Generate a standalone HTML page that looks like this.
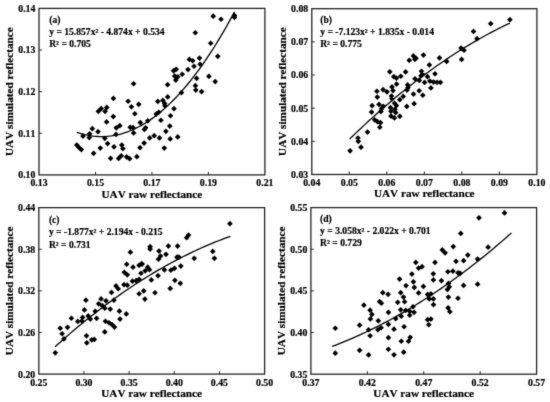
<!DOCTYPE html><html><head><meta charset="utf-8"><style>html,body{margin:0;padding:0;background:#fff;}svg{display:block;}</style></head><body>
<svg width="550" height="402" viewBox="0 0 550 402">
<rect width="550" height="402" fill="#fff"/>
<defs><filter id="bl" x="0" y="0" width="550" height="402" filterUnits="userSpaceOnUse" color-interpolation-filters="sRGB"><feConvolveMatrix order="3" kernelMatrix="0.0225 0.15 0.0225 0.15 1 0.15 0.0225 0.15 0.0225" edgeMode="duplicate"/></filter></defs><g filter="url(#bl)">
<g><path d="M76.80,132.30 L79.47,133.18 L82.15,133.96 L84.82,134.64 L87.49,135.21 L90.16,135.69 L92.84,136.07 L95.51,136.34 L98.18,136.51 L100.86,136.59 L103.53,136.56 L106.20,136.43 L108.87,136.20 L111.55,135.88 L114.22,135.45 L116.89,134.91 L119.57,134.28 L122.24,133.55 L124.91,132.72 L127.58,131.78 L130.26,130.75 L132.93,129.62 L135.60,128.38 L138.28,127.04 L140.95,125.61 L143.62,124.07 L146.29,122.43 L148.97,120.69 L151.64,118.85 L154.31,116.91 L156.99,114.87 L159.66,112.73 L162.33,110.48 L165.01,108.14 L167.68,105.70 L170.35,103.15 L173.02,100.51 L175.70,97.76 L178.37,94.91 L181.04,91.97 L183.72,88.92 L186.39,85.77 L189.06,82.52 L191.73,79.17 L194.41,75.72 L197.08,72.17 L199.75,68.51 L202.43,64.76 L205.10,60.91 L207.77,56.95 L210.44,52.90 L213.12,48.74 L215.79,44.49 L218.46,40.13 L221.14,35.67 L223.81,31.11 L226.48,26.45 L229.15,21.69 L231.83,16.83 L234.50,11.87" fill="none" stroke="#000" stroke-width="1.3"/><path d="M213.2,13.3l2.85,2.85l-2.85,2.85l-2.85,-2.85zM221.0,16.4l2.85,2.85l-2.85,2.85l-2.85,-2.85zM234.5,12.7l2.85,2.85l-2.85,2.85l-2.85,-2.85zM234.5,14.5l2.85,2.85l-2.85,2.85l-2.85,-2.85zM195.3,29.9l2.85,2.85l-2.85,2.85l-2.85,-2.85zM210.7,40.4l2.85,2.85l-2.85,2.85l-2.85,-2.85zM217.8,53.5l2.85,2.85l-2.85,2.85l-2.85,-2.85zM199.5,55.2l2.85,2.85l-2.85,2.85l-2.85,-2.85zM192.7,57.9l2.85,2.85l-2.85,2.85l-2.85,-2.85zM189.4,56.6l2.85,2.85l-2.85,2.85l-2.85,-2.85zM194.0,63.4l2.85,2.85l-2.85,2.85l-2.85,-2.85zM200.1,61.4l2.85,2.85l-2.85,2.85l-2.85,-2.85zM188.0,66.7l2.85,2.85l-2.85,2.85l-2.85,-2.85zM208.9,73.5l2.85,2.85l-2.85,2.85l-2.85,-2.85zM215.2,78.7l2.85,2.85l-2.85,2.85l-2.85,-2.85zM196.6,75.5l2.85,2.85l-2.85,2.85l-2.85,-2.85zM195.4,82.8l2.85,2.85l-2.85,2.85l-2.85,-2.85zM195.8,87.2l2.85,2.85l-2.85,2.85l-2.85,-2.85zM201.6,88.8l2.85,2.85l-2.85,2.85l-2.85,-2.85zM181.4,89.8l2.85,2.85l-2.85,2.85l-2.85,-2.85zM133.6,80.9l2.85,2.85l-2.85,2.85l-2.85,-2.85zM176.2,66.5l2.85,2.85l-2.85,2.85l-2.85,-2.85zM173.6,68.0l2.85,2.85l-2.85,2.85l-2.85,-2.85zM182.2,71.4l2.85,2.85l-2.85,2.85l-2.85,-2.85zM174.7,73.2l2.85,2.85l-2.85,2.85l-2.85,-2.85zM177.7,74.0l2.85,2.85l-2.85,2.85l-2.85,-2.85zM175.8,77.2l2.85,2.85l-2.85,2.85l-2.85,-2.85zM167.6,81.8l2.85,2.85l-2.85,2.85l-2.85,-2.85zM167.7,94.1l2.85,2.85l-2.85,2.85l-2.85,-2.85zM157.8,98.6l2.85,2.85l-2.85,2.85l-2.85,-2.85zM162.9,97.6l2.85,2.85l-2.85,2.85l-2.85,-2.85zM164.6,100.6l2.85,2.85l-2.85,2.85l-2.85,-2.85zM164.9,102.9l2.85,2.85l-2.85,2.85l-2.85,-2.85zM174.0,105.8l2.85,2.85l-2.85,2.85l-2.85,-2.85zM158.8,109.4l2.85,2.85l-2.85,2.85l-2.85,-2.85zM156.2,111.2l2.85,2.85l-2.85,2.85l-2.85,-2.85zM170.5,112.9l2.85,2.85l-2.85,2.85l-2.85,-2.85zM160.9,117.4l2.85,2.85l-2.85,2.85l-2.85,-2.85zM147.8,118.0l2.85,2.85l-2.85,2.85l-2.85,-2.85zM140.3,119.7l2.85,2.85l-2.85,2.85l-2.85,-2.85zM145.6,124.9l2.85,2.85l-2.85,2.85l-2.85,-2.85zM144.4,126.6l2.85,2.85l-2.85,2.85l-2.85,-2.85zM169.8,123.2l2.85,2.85l-2.85,2.85l-2.85,-2.85zM165.9,128.5l2.85,2.85l-2.85,2.85l-2.85,-2.85zM113.4,95.6l2.85,2.85l-2.85,2.85l-2.85,-2.85zM128.1,98.4l2.85,2.85l-2.85,2.85l-2.85,-2.85zM138.7,101.5l2.85,2.85l-2.85,2.85l-2.85,-2.85zM131.4,104.0l2.85,2.85l-2.85,2.85l-2.85,-2.85zM134.8,110.9l2.85,2.85l-2.85,2.85l-2.85,-2.85zM101.2,105.7l2.85,2.85l-2.85,2.85l-2.85,-2.85zM98.4,108.5l2.85,2.85l-2.85,2.85l-2.85,-2.85zM106.8,104.6l2.85,2.85l-2.85,2.85l-2.85,-2.85zM105.1,108.5l2.85,2.85l-2.85,2.85l-2.85,-2.85zM113.3,113.7l2.85,2.85l-2.85,2.85l-2.85,-2.85zM106.6,119.1l2.85,2.85l-2.85,2.85l-2.85,-2.85zM119.8,122.8l2.85,2.85l-2.85,2.85l-2.85,-2.85zM116.3,125.0l2.85,2.85l-2.85,2.85l-2.85,-2.85zM92.3,125.8l2.85,2.85l-2.85,2.85l-2.85,-2.85zM98.0,128.8l2.85,2.85l-2.85,2.85l-2.85,-2.85zM130.2,124.5l2.85,2.85l-2.85,2.85l-2.85,-2.85zM133.1,124.8l2.85,2.85l-2.85,2.85l-2.85,-2.85zM133.6,130.1l2.85,2.85l-2.85,2.85l-2.85,-2.85zM116.0,131.6l2.85,2.85l-2.85,2.85l-2.85,-2.85zM83.0,133.2l2.85,2.85l-2.85,2.85l-2.85,-2.85zM89.6,131.0l2.85,2.85l-2.85,2.85l-2.85,-2.85zM89.3,134.7l2.85,2.85l-2.85,2.85l-2.85,-2.85zM104.8,135.5l2.85,2.85l-2.85,2.85l-2.85,-2.85zM107.6,140.7l2.85,2.85l-2.85,2.85l-2.85,-2.85zM114.0,144.0l2.85,2.85l-2.85,2.85l-2.85,-2.85zM100.3,145.2l2.85,2.85l-2.85,2.85l-2.85,-2.85zM93.6,150.5l2.85,2.85l-2.85,2.85l-2.85,-2.85zM76.8,142.2l2.85,2.85l-2.85,2.85l-2.85,-2.85zM79.0,144.7l2.85,2.85l-2.85,2.85l-2.85,-2.85zM81.3,146.7l2.85,2.85l-2.85,2.85l-2.85,-2.85zM110.6,155.5l2.85,2.85l-2.85,2.85l-2.85,-2.85zM118.6,155.6l2.85,2.85l-2.85,2.85l-2.85,-2.85zM121.2,153.0l2.85,2.85l-2.85,2.85l-2.85,-2.85zM126.6,154.1l2.85,2.85l-2.85,2.85l-2.85,-2.85zM129.6,155.8l2.85,2.85l-2.85,2.85l-2.85,-2.85zM136.9,153.8l2.85,2.85l-2.85,2.85l-2.85,-2.85zM149.7,135.1l2.85,2.85l-2.85,2.85l-2.85,-2.85zM154.2,132.8l2.85,2.85l-2.85,2.85l-2.85,-2.85zM159.5,135.1l2.85,2.85l-2.85,2.85l-2.85,-2.85zM144.1,140.2l2.85,2.85l-2.85,2.85l-2.85,-2.85zM140.0,144.8l2.85,2.85l-2.85,2.85l-2.85,-2.85zM164.3,145.2l2.85,2.85l-2.85,2.85l-2.85,-2.85zM177.7,134.1l2.85,2.85l-2.85,2.85l-2.85,-2.85zM121.8,142.2l2.85,2.85l-2.85,2.85l-2.85,-2.85zM122.9,145.7l2.85,2.85l-2.85,2.85l-2.85,-2.85zM170.2,136.1l2.85,2.85l-2.85,2.85l-2.85,-2.85z" fill="#000"/><rect x="39.0" y="8.4" width="225.90" height="166.50" fill="none" stroke="#262626" stroke-width="1.3"/><text x="39.00" y="186.40" text-anchor="middle" class="tk">0.13</text><text x="95.47" y="186.40" text-anchor="middle" class="tk">0.15</text><text x="151.95" y="186.40" text-anchor="middle" class="tk">0.17</text><text x="208.42" y="186.40" text-anchor="middle" class="tk">0.19</text><text x="264.90" y="186.40" text-anchor="middle" class="tk">0.21</text><text x="35.40" y="178.30" text-anchor="end" class="tk">0.10</text><text x="35.40" y="136.68" text-anchor="end" class="tk">0.11</text><text x="35.40" y="95.05" text-anchor="end" class="tk">0.12</text><text x="35.40" y="53.43" text-anchor="end" class="tk">0.13</text><text x="35.40" y="11.80" text-anchor="end" class="tk">0.14</text><path d="M95.47,174.9v-3M151.95,174.9v-3M208.42,174.9v-3M39.0,133.28h3M39.0,91.65h3M39.0,50.03h3" stroke="#262626" stroke-width="1"/><text x="151.85" y="197.60" text-anchor="middle" class="ti">UAV raw reflectance</text><text transform="translate(13.40,91.65) rotate(-90)" x="0" y="0" text-anchor="middle" class="ti">UAV simulated reflectance</text><text x="49.2" y="23.2" class="eq">(a)</text><text x="49.2" y="35.1" class="eq">y = 15.857x² - 4.874x + 0.534</text><text x="49.2" y="46.9" class="eq">R² = 0.705</text></g>
<g><path d="M349.60,139.13 L352.32,136.48 L355.03,133.86 L357.75,131.26 L360.47,128.69 L363.18,126.14 L365.90,123.61 L368.62,121.10 L371.34,118.62 L374.05,116.16 L376.77,113.73 L379.49,111.32 L382.20,108.93 L384.92,106.56 L387.64,104.22 L390.35,101.91 L393.07,99.61 L395.79,97.34 L398.51,95.09 L401.22,92.87 L403.94,90.67 L406.66,88.49 L409.37,86.34 L412.09,84.21 L414.81,82.10 L417.52,80.01 L420.24,77.95 L422.96,75.92 L425.67,73.90 L428.39,71.91 L431.11,69.95 L433.83,68.00 L436.54,66.08 L439.26,64.18 L441.98,62.31 L444.69,60.46 L447.41,58.63 L450.13,56.83 L452.84,55.05 L455.56,53.30 L458.28,51.56 L460.99,49.85 L463.71,48.17 L466.43,46.50 L469.15,44.86 L471.86,43.25 L474.58,41.65 L477.30,40.09 L480.01,38.54 L482.73,37.02 L485.45,35.52 L488.16,34.04 L490.88,32.59 L493.60,31.16 L496.32,29.75 L499.03,28.37 L501.75,27.01 L504.47,25.68 L507.18,24.37 L509.90,23.08" fill="none" stroke="#000" stroke-width="1.3"/><path d="M509.9,16.8l2.85,2.85l-2.85,2.85l-2.85,-2.85zM421.0,73.0l2.85,2.85l-2.85,2.85l-2.85,-2.85zM490.7,20.8l2.85,2.85l-2.85,2.85l-2.85,-2.85zM473.5,28.6l2.85,2.85l-2.85,2.85l-2.85,-2.85zM477.0,35.8l2.85,2.85l-2.85,2.85l-2.85,-2.85zM461.1,45.2l2.85,2.85l-2.85,2.85l-2.85,-2.85zM464.0,47.4l2.85,2.85l-2.85,2.85l-2.85,-2.85zM461.6,56.6l2.85,2.85l-2.85,2.85l-2.85,-2.85zM446.6,58.6l2.85,2.85l-2.85,2.85l-2.85,-2.85zM439.5,55.1l2.85,2.85l-2.85,2.85l-2.85,-2.85zM423.5,52.2l2.85,2.85l-2.85,2.85l-2.85,-2.85zM413.4,53.1l2.85,2.85l-2.85,2.85l-2.85,-2.85zM416.0,55.5l2.85,2.85l-2.85,2.85l-2.85,-2.85zM414.9,56.5l2.85,2.85l-2.85,2.85l-2.85,-2.85zM409.3,57.5l2.85,2.85l-2.85,2.85l-2.85,-2.85zM429.4,62.1l2.85,2.85l-2.85,2.85l-2.85,-2.85zM405.6,69.1l2.85,2.85l-2.85,2.85l-2.85,-2.85zM400.8,73.4l2.85,2.85l-2.85,2.85l-2.85,-2.85zM421.5,68.4l2.85,2.85l-2.85,2.85l-2.85,-2.85zM422.5,71.2l2.85,2.85l-2.85,2.85l-2.85,-2.85zM427.5,73.8l2.85,2.85l-2.85,2.85l-2.85,-2.85zM435.0,71.0l2.85,2.85l-2.85,2.85l-2.85,-2.85zM415.0,75.9l2.85,2.85l-2.85,2.85l-2.85,-2.85zM419.2,77.6l2.85,2.85l-2.85,2.85l-2.85,-2.85zM424.6,79.6l2.85,2.85l-2.85,2.85l-2.85,-2.85zM429.9,78.2l2.85,2.85l-2.85,2.85l-2.85,-2.85zM433.6,79.2l2.85,2.85l-2.85,2.85l-2.85,-2.85zM437.0,79.5l2.85,2.85l-2.85,2.85l-2.85,-2.85zM440.4,79.5l2.85,2.85l-2.85,2.85l-2.85,-2.85zM430.9,85.1l2.85,2.85l-2.85,2.85l-2.85,-2.85zM389.8,69.0l2.85,2.85l-2.85,2.85l-2.85,-2.85zM393.8,73.8l2.85,2.85l-2.85,2.85l-2.85,-2.85zM396.4,75.2l2.85,2.85l-2.85,2.85l-2.85,-2.85zM396.6,81.2l2.85,2.85l-2.85,2.85l-2.85,-2.85zM407.6,82.1l2.85,2.85l-2.85,2.85l-2.85,-2.85zM408.0,84.8l2.85,2.85l-2.85,2.85l-2.85,-2.85zM407.0,87.2l2.85,2.85l-2.85,2.85l-2.85,-2.85zM392.0,84.1l2.85,2.85l-2.85,2.85l-2.85,-2.85zM383.1,86.8l2.85,2.85l-2.85,2.85l-2.85,-2.85zM387.0,89.0l2.85,2.85l-2.85,2.85l-2.85,-2.85zM393.0,87.7l2.85,2.85l-2.85,2.85l-2.85,-2.85zM376.9,88.4l2.85,2.85l-2.85,2.85l-2.85,-2.85zM377.3,94.2l2.85,2.85l-2.85,2.85l-2.85,-2.85zM391.5,93.2l2.85,2.85l-2.85,2.85l-2.85,-2.85zM392.0,96.0l2.85,2.85l-2.85,2.85l-2.85,-2.85zM399.8,96.8l2.85,2.85l-2.85,2.85l-2.85,-2.85zM403.2,93.6l2.85,2.85l-2.85,2.85l-2.85,-2.85zM419.2,87.9l2.85,2.85l-2.85,2.85l-2.85,-2.85zM413.5,91.2l2.85,2.85l-2.85,2.85l-2.85,-2.85zM422.8,92.4l2.85,2.85l-2.85,2.85l-2.85,-2.85zM414.1,100.8l2.85,2.85l-2.85,2.85l-2.85,-2.85zM406.8,103.6l2.85,2.85l-2.85,2.85l-2.85,-2.85zM372.1,102.8l2.85,2.85l-2.85,2.85l-2.85,-2.85zM379.0,101.6l2.85,2.85l-2.85,2.85l-2.85,-2.85zM383.2,103.5l2.85,2.85l-2.85,2.85l-2.85,-2.85zM381.5,106.0l2.85,2.85l-2.85,2.85l-2.85,-2.85zM380.9,108.7l2.85,2.85l-2.85,2.85l-2.85,-2.85zM371.6,109.2l2.85,2.85l-2.85,2.85l-2.85,-2.85zM394.6,100.5l2.85,2.85l-2.85,2.85l-2.85,-2.85zM396.4,102.7l2.85,2.85l-2.85,2.85l-2.85,-2.85zM390.5,104.8l2.85,2.85l-2.85,2.85l-2.85,-2.85zM394.9,106.4l2.85,2.85l-2.85,2.85l-2.85,-2.85zM391.0,108.5l2.85,2.85l-2.85,2.85l-2.85,-2.85zM395.7,109.7l2.85,2.85l-2.85,2.85l-2.85,-2.85zM391.0,113.2l2.85,2.85l-2.85,2.85l-2.85,-2.85zM394.4,115.1l2.85,2.85l-2.85,2.85l-2.85,-2.85zM399.8,113.5l2.85,2.85l-2.85,2.85l-2.85,-2.85zM374.7,117.0l2.85,2.85l-2.85,2.85l-2.85,-2.85zM377.5,118.8l2.85,2.85l-2.85,2.85l-2.85,-2.85zM380.5,119.8l2.85,2.85l-2.85,2.85l-2.85,-2.85zM379.8,124.4l2.85,2.85l-2.85,2.85l-2.85,-2.85zM367.5,129.2l2.85,2.85l-2.85,2.85l-2.85,-2.85zM358.0,135.2l2.85,2.85l-2.85,2.85l-2.85,-2.85zM358.3,138.5l2.85,2.85l-2.85,2.85l-2.85,-2.85zM361.0,144.3l2.85,2.85l-2.85,2.85l-2.85,-2.85zM350.1,148.0l2.85,2.85l-2.85,2.85l-2.85,-2.85z" fill="#000"/><rect x="311.8" y="8.7" width="225.10" height="165.80" fill="none" stroke="#262626" stroke-width="1.3"/><text x="311.80" y="186.00" text-anchor="middle" class="tk">0.04</text><text x="349.32" y="186.00" text-anchor="middle" class="tk">0.05</text><text x="386.83" y="186.00" text-anchor="middle" class="tk">0.06</text><text x="424.35" y="186.00" text-anchor="middle" class="tk">0.07</text><text x="461.87" y="186.00" text-anchor="middle" class="tk">0.08</text><text x="499.38" y="186.00" text-anchor="middle" class="tk">0.09</text><text x="536.90" y="186.00" text-anchor="middle" class="tk">0.10</text><text x="308.20" y="177.90" text-anchor="end" class="tk">0.03</text><text x="308.20" y="144.74" text-anchor="end" class="tk">0.04</text><text x="308.20" y="111.58" text-anchor="end" class="tk">0.05</text><text x="308.20" y="78.42" text-anchor="end" class="tk">0.06</text><text x="308.20" y="45.26" text-anchor="end" class="tk">0.07</text><text x="308.20" y="12.10" text-anchor="end" class="tk">0.08</text><path d="M349.32,174.5v-3M386.83,174.5v-3M424.35,174.5v-3M461.87,174.5v-3M499.38,174.5v-3M311.8,141.34h3M311.8,108.18h3M311.8,75.02h3M311.8,41.86h3" stroke="#262626" stroke-width="1"/><text x="424.25" y="197.20" text-anchor="middle" class="ti">UAV raw reflectance</text><text transform="translate(286.20,91.60) rotate(-90)" x="0" y="0" text-anchor="middle" class="ti">UAV simulated reflectance</text><text x="320.2" y="23.3" class="eq">(b)</text><text x="320.2" y="35.2" class="eq">y = -7.123x² + 1.835x - 0.014</text><text x="320.2" y="46.9" class="eq">R² = 0.775</text></g>
<g><path d="M55.10,346.70 L58.07,344.03 L61.04,341.39 L64.01,338.78 L66.98,336.19 L69.96,333.63 L72.93,331.10 L75.90,328.60 L78.87,326.12 L81.84,323.67 L84.81,321.25 L87.78,318.86 L90.75,316.49 L93.73,314.15 L96.70,311.84 L99.67,309.56 L102.64,307.30 L105.61,305.08 L108.58,302.87 L111.55,300.70 L114.52,298.56 L117.49,296.44 L120.47,294.35 L123.44,292.28 L126.41,290.25 L129.38,288.24 L132.35,286.26 L135.32,284.30 L138.29,282.38 L141.26,280.48 L144.24,278.61 L147.21,276.76 L150.18,274.95 L153.15,273.16 L156.12,271.40 L159.09,269.66 L162.06,267.96 L165.03,266.28 L168.01,264.63 L170.98,263.00 L173.95,261.41 L176.92,259.84 L179.89,258.30 L182.86,256.78 L185.83,255.30 L188.80,253.84 L191.77,252.41 L194.75,251.00 L197.72,249.63 L200.69,248.28 L203.66,246.96 L206.63,245.66 L209.60,244.40 L212.57,243.16 L215.54,241.95 L218.52,240.76 L221.49,239.61 L224.46,238.48 L227.43,237.37 L230.40,236.30" fill="none" stroke="#000" stroke-width="1.3"/><path d="M229.9,220.8l2.85,2.85l-2.85,2.85l-2.85,-2.85zM212.8,248.6l2.85,2.85l-2.85,2.85l-2.85,-2.85zM214.4,255.5l2.85,2.85l-2.85,2.85l-2.85,-2.85zM194.2,255.5l2.85,2.85l-2.85,2.85l-2.85,-2.85zM188.5,232.2l2.85,2.85l-2.85,2.85l-2.85,-2.85zM186.7,234.8l2.85,2.85l-2.85,2.85l-2.85,-2.85zM168.4,243.2l2.85,2.85l-2.85,2.85l-2.85,-2.85zM177.6,243.2l2.85,2.85l-2.85,2.85l-2.85,-2.85zM150.1,243.8l2.85,2.85l-2.85,2.85l-2.85,-2.85zM150.1,246.2l2.85,2.85l-2.85,2.85l-2.85,-2.85zM159.0,248.2l2.85,2.85l-2.85,2.85l-2.85,-2.85zM166.0,251.5l2.85,2.85l-2.85,2.85l-2.85,-2.85zM160.5,253.2l2.85,2.85l-2.85,2.85l-2.85,-2.85zM158.5,256.3l2.85,2.85l-2.85,2.85l-2.85,-2.85zM177.0,254.3l2.85,2.85l-2.85,2.85l-2.85,-2.85zM178.8,254.2l2.85,2.85l-2.85,2.85l-2.85,-2.85zM130.4,249.3l2.85,2.85l-2.85,2.85l-2.85,-2.85zM141.6,260.8l2.85,2.85l-2.85,2.85l-2.85,-2.85zM133.0,264.3l2.85,2.85l-2.85,2.85l-2.85,-2.85zM139.1,262.5l2.85,2.85l-2.85,2.85l-2.85,-2.85zM142.2,261.2l2.85,2.85l-2.85,2.85l-2.85,-2.85zM147.7,264.3l2.85,2.85l-2.85,2.85l-2.85,-2.85zM149.5,266.8l2.85,2.85l-2.85,2.85l-2.85,-2.85zM145.2,268.0l2.85,2.85l-2.85,2.85l-2.85,-2.85zM141.0,270.4l2.85,2.85l-2.85,2.85l-2.85,-2.85zM132.4,278.3l2.85,2.85l-2.85,2.85l-2.85,-2.85zM136.1,277.8l2.85,2.85l-2.85,2.85l-2.85,-2.85zM139.1,276.5l2.85,2.85l-2.85,2.85l-2.85,-2.85zM151.3,277.1l2.85,2.85l-2.85,2.85l-2.85,-2.85zM158.0,272.8l2.85,2.85l-2.85,2.85l-2.85,-2.85zM164.4,267.0l2.85,2.85l-2.85,2.85l-2.85,-2.85zM170.9,267.3l2.85,2.85l-2.85,2.85l-2.85,-2.85zM174.5,265.5l2.85,2.85l-2.85,2.85l-2.85,-2.85zM180.8,263.2l2.85,2.85l-2.85,2.85l-2.85,-2.85zM174.9,277.5l2.85,2.85l-2.85,2.85l-2.85,-2.85zM180.3,280.5l2.85,2.85l-2.85,2.85l-2.85,-2.85zM170.2,285.6l2.85,2.85l-2.85,2.85l-2.85,-2.85zM139.1,290.9l2.85,2.85l-2.85,2.85l-2.85,-2.85zM143.7,288.1l2.85,2.85l-2.85,2.85l-2.85,-2.85zM155.0,289.9l2.85,2.85l-2.85,2.85l-2.85,-2.85zM144.9,296.2l2.85,2.85l-2.85,2.85l-2.85,-2.85zM126.7,261.4l2.85,2.85l-2.85,2.85l-2.85,-2.85zM124.3,269.5l2.85,2.85l-2.85,2.85l-2.85,-2.85zM127.3,272.0l2.85,2.85l-2.85,2.85l-2.85,-2.85zM124.0,281.8l2.85,2.85l-2.85,2.85l-2.85,-2.85zM127.3,282.3l2.85,2.85l-2.85,2.85l-2.85,-2.85zM116.0,283.1l2.85,2.85l-2.85,2.85l-2.85,-2.85zM118.2,285.9l2.85,2.85l-2.85,2.85l-2.85,-2.85zM111.5,289.6l2.85,2.85l-2.85,2.85l-2.85,-2.85zM85.9,297.3l2.85,2.85l-2.85,2.85l-2.85,-2.85zM101.1,296.1l2.85,2.85l-2.85,2.85l-2.85,-2.85zM106.0,298.0l2.85,2.85l-2.85,2.85l-2.85,-2.85zM98.7,301.0l2.85,2.85l-2.85,2.85l-2.85,-2.85zM102.3,302.8l2.85,2.85l-2.85,2.85l-2.85,-2.85zM104.8,305.3l2.85,2.85l-2.85,2.85l-2.85,-2.85zM113.9,297.3l2.85,2.85l-2.85,2.85l-2.85,-2.85zM110.2,306.2l2.85,2.85l-2.85,2.85l-2.85,-2.85zM84.4,307.1l2.85,2.85l-2.85,2.85l-2.85,-2.85zM95.2,308.5l2.85,2.85l-2.85,2.85l-2.85,-2.85zM119.4,308.3l2.85,2.85l-2.85,2.85l-2.85,-2.85zM126.3,311.1l2.85,2.85l-2.85,2.85l-2.85,-2.85zM120.0,316.2l2.85,2.85l-2.85,2.85l-2.85,-2.85zM82.6,314.6l2.85,2.85l-2.85,2.85l-2.85,-2.85zM88.2,313.1l2.85,2.85l-2.85,2.85l-2.85,-2.85zM90.3,316.2l2.85,2.85l-2.85,2.85l-2.85,-2.85zM96.6,315.5l2.85,2.85l-2.85,2.85l-2.85,-2.85zM77.8,318.6l2.85,2.85l-2.85,2.85l-2.85,-2.85zM71.4,315.4l2.85,2.85l-2.85,2.85l-2.85,-2.85zM81.9,318.1l2.85,2.85l-2.85,2.85l-2.85,-2.85zM105.4,318.4l2.85,2.85l-2.85,2.85l-2.85,-2.85zM109.0,319.9l2.85,2.85l-2.85,2.85l-2.85,-2.85zM112.1,321.8l2.85,2.85l-2.85,2.85l-2.85,-2.85zM114.5,324.2l2.85,2.85l-2.85,2.85l-2.85,-2.85zM104.8,329.1l2.85,2.85l-2.85,2.85l-2.85,-2.85zM60.2,325.4l2.85,2.85l-2.85,2.85l-2.85,-2.85zM67.5,324.5l2.85,2.85l-2.85,2.85l-2.85,-2.85zM62.1,330.9l2.85,2.85l-2.85,2.85l-2.85,-2.85zM63.9,336.1l2.85,2.85l-2.85,2.85l-2.85,-2.85zM86.5,333.0l2.85,2.85l-2.85,2.85l-2.85,-2.85zM91.7,337.0l2.85,2.85l-2.85,2.85l-2.85,-2.85zM94.3,336.6l2.85,2.85l-2.85,2.85l-2.85,-2.85zM86.8,340.0l2.85,2.85l-2.85,2.85l-2.85,-2.85zM55.3,350.0l2.85,2.85l-2.85,2.85l-2.85,-2.85z" fill="#000"/><rect x="38.8" y="207.65" width="225.80" height="166.45" fill="none" stroke="#262626" stroke-width="1.3"/><text x="38.80" y="385.60" text-anchor="middle" class="tk">0.25</text><text x="83.96" y="385.60" text-anchor="middle" class="tk">0.30</text><text x="129.12" y="385.60" text-anchor="middle" class="tk">0.35</text><text x="174.28" y="385.60" text-anchor="middle" class="tk">0.40</text><text x="219.44" y="385.60" text-anchor="middle" class="tk">0.45</text><text x="264.60" y="385.60" text-anchor="middle" class="tk">0.50</text><text x="35.20" y="377.50" text-anchor="end" class="tk">0.20</text><text x="35.20" y="335.89" text-anchor="end" class="tk">0.26</text><text x="35.20" y="294.27" text-anchor="end" class="tk">0.32</text><text x="35.20" y="252.66" text-anchor="end" class="tk">0.38</text><text x="35.20" y="211.05" text-anchor="end" class="tk">0.44</text><path d="M83.96,374.1v-3M129.12,374.1v-3M174.28,374.1v-3M219.44,374.1v-3M38.8,332.49h3M38.8,290.88h3M38.8,249.26h3" stroke="#262626" stroke-width="1"/><text x="151.60" y="396.80" text-anchor="middle" class="ti">UAV raw reflectance</text><text transform="translate(13.20,290.88) rotate(-90)" x="0" y="0" text-anchor="middle" class="ti">UAV simulated reflectance</text><text x="48.9" y="222.9" class="eq">(c)</text><text x="48.9" y="235.2" class="eq">y = -1.877x² + 2.194x - 0.215</text><text x="48.9" y="247.5" class="eq">R² = 0.731</text></g>
<g><path d="M332.10,346.42 L335.14,345.27 L338.18,344.09 L341.22,342.88 L344.26,341.65 L347.30,340.39 L350.34,339.10 L353.38,337.79 L356.43,336.45 L359.47,335.08 L362.51,333.69 L365.55,332.27 L368.59,330.82 L371.63,329.35 L374.67,327.85 L377.71,326.32 L380.75,324.77 L383.79,323.19 L386.83,321.58 L389.87,319.95 L392.91,318.29 L395.95,316.61 L398.99,314.90 L402.04,313.16 L405.08,311.39 L408.12,309.60 L411.16,307.78 L414.20,305.94 L417.24,304.07 L420.28,302.17 L423.32,300.24 L426.36,298.29 L429.40,296.31 L432.44,294.31 L435.48,292.28 L438.52,290.22 L441.56,288.14 L444.61,286.03 L447.65,283.89 L450.69,281.73 L453.73,279.54 L456.77,277.32 L459.81,275.08 L462.85,272.81 L465.89,270.51 L468.93,268.19 L471.97,265.84 L475.01,263.46 L478.05,261.06 L481.09,258.63 L484.13,256.17 L487.17,253.69 L490.22,251.18 L493.26,248.65 L496.30,246.09 L499.34,243.50 L502.38,240.88 L505.42,238.24 L508.46,235.57 L511.50,232.88" fill="none" stroke="#000" stroke-width="1.3"/><path d="M504.5,210.1l2.85,2.85l-2.85,2.85l-2.85,-2.85zM479.0,215.0l2.85,2.85l-2.85,2.85l-2.85,-2.85zM488.1,244.3l2.85,2.85l-2.85,2.85l-2.85,-2.85zM477.6,256.2l2.85,2.85l-2.85,2.85l-2.85,-2.85zM460.8,230.6l2.85,2.85l-2.85,2.85l-2.85,-2.85zM453.3,243.7l2.85,2.85l-2.85,2.85l-2.85,-2.85zM442.3,247.1l2.85,2.85l-2.85,2.85l-2.85,-2.85zM445.1,250.0l2.85,2.85l-2.85,2.85l-2.85,-2.85zM467.8,252.2l2.85,2.85l-2.85,2.85l-2.85,-2.85zM456.0,258.5l2.85,2.85l-2.85,2.85l-2.85,-2.85zM463.6,257.8l2.85,2.85l-2.85,2.85l-2.85,-2.85zM435.0,259.6l2.85,2.85l-2.85,2.85l-2.85,-2.85zM447.9,268.9l2.85,2.85l-2.85,2.85l-2.85,-2.85zM452.9,268.3l2.85,2.85l-2.85,2.85l-2.85,-2.85zM458.0,270.0l2.85,2.85l-2.85,2.85l-2.85,-2.85zM460.2,270.5l2.85,2.85l-2.85,2.85l-2.85,-2.85zM433.3,271.0l2.85,2.85l-2.85,2.85l-2.85,-2.85zM433.4,277.1l2.85,2.85l-2.85,2.85l-2.85,-2.85zM441.4,277.8l2.85,2.85l-2.85,2.85l-2.85,-2.85zM448.5,280.6l2.85,2.85l-2.85,2.85l-2.85,-2.85zM449.3,284.0l2.85,2.85l-2.85,2.85l-2.85,-2.85zM447.4,286.6l2.85,2.85l-2.85,2.85l-2.85,-2.85zM463.6,282.6l2.85,2.85l-2.85,2.85l-2.85,-2.85zM477.6,281.3l2.85,2.85l-2.85,2.85l-2.85,-2.85zM448.4,294.2l2.85,2.85l-2.85,2.85l-2.85,-2.85zM458.0,295.4l2.85,2.85l-2.85,2.85l-2.85,-2.85zM430.9,291.1l2.85,2.85l-2.85,2.85l-2.85,-2.85zM427.6,291.6l2.85,2.85l-2.85,2.85l-2.85,-2.85zM433.4,296.1l2.85,2.85l-2.85,2.85l-2.85,-2.85zM429.3,296.1l2.85,2.85l-2.85,2.85l-2.85,-2.85zM433.5,301.8l2.85,2.85l-2.85,2.85l-2.85,-2.85zM415.8,259.6l2.85,2.85l-2.85,2.85l-2.85,-2.85zM422.0,263.8l2.85,2.85l-2.85,2.85l-2.85,-2.85zM418.6,265.2l2.85,2.85l-2.85,2.85l-2.85,-2.85zM411.9,271.2l2.85,2.85l-2.85,2.85l-2.85,-2.85zM399.6,276.2l2.85,2.85l-2.85,2.85l-2.85,-2.85zM413.4,279.0l2.85,2.85l-2.85,2.85l-2.85,-2.85zM406.0,282.8l2.85,2.85l-2.85,2.85l-2.85,-2.85zM414.3,284.6l2.85,2.85l-2.85,2.85l-2.85,-2.85zM423.4,283.6l2.85,2.85l-2.85,2.85l-2.85,-2.85zM382.8,289.8l2.85,2.85l-2.85,2.85l-2.85,-2.85zM388.1,291.5l2.85,2.85l-2.85,2.85l-2.85,-2.85zM400.7,289.8l2.85,2.85l-2.85,2.85l-2.85,-2.85zM418.6,290.1l2.85,2.85l-2.85,2.85l-2.85,-2.85zM403.5,294.2l2.85,2.85l-2.85,2.85l-2.85,-2.85zM404.6,298.9l2.85,2.85l-2.85,2.85l-2.85,-2.85zM397.7,299.5l2.85,2.85l-2.85,2.85l-2.85,-2.85zM379.6,298.8l2.85,2.85l-2.85,2.85l-2.85,-2.85zM381.4,300.3l2.85,2.85l-2.85,2.85l-2.85,-2.85zM413.0,303.9l2.85,2.85l-2.85,2.85l-2.85,-2.85zM400.7,307.0l2.85,2.85l-2.85,2.85l-2.85,-2.85zM405.7,307.6l2.85,2.85l-2.85,2.85l-2.85,-2.85zM409.7,308.4l2.85,2.85l-2.85,2.85l-2.85,-2.85zM414.1,309.5l2.85,2.85l-2.85,2.85l-2.85,-2.85zM409.7,312.3l2.85,2.85l-2.85,2.85l-2.85,-2.85zM388.4,309.5l2.85,2.85l-2.85,2.85l-2.85,-2.85zM401.3,313.4l2.85,2.85l-2.85,2.85l-2.85,-2.85zM395.7,315.8l2.85,2.85l-2.85,2.85l-2.85,-2.85zM427.6,316.8l2.85,2.85l-2.85,2.85l-2.85,-2.85zM430.9,316.2l2.85,2.85l-2.85,2.85l-2.85,-2.85zM428.8,321.9l2.85,2.85l-2.85,2.85l-2.85,-2.85zM388.4,321.5l2.85,2.85l-2.85,2.85l-2.85,-2.85zM381.1,324.9l2.85,2.85l-2.85,2.85l-2.85,-2.85zM394.0,326.3l2.85,2.85l-2.85,2.85l-2.85,-2.85zM404.1,323.9l2.85,2.85l-2.85,2.85l-2.85,-2.85zM388.4,334.8l2.85,2.85l-2.85,2.85l-2.85,-2.85zM401.3,338.4l2.85,2.85l-2.85,2.85l-2.85,-2.85zM410.2,334.5l2.85,2.85l-2.85,2.85l-2.85,-2.85zM408.5,338.4l2.85,2.85l-2.85,2.85l-2.85,-2.85zM388.4,346.4l2.85,2.85l-2.85,2.85l-2.85,-2.85zM394.0,352.0l2.85,2.85l-2.85,2.85l-2.85,-2.85zM403.7,349.3l2.85,2.85l-2.85,2.85l-2.85,-2.85zM448.1,305.0l2.85,2.85l-2.85,2.85l-2.85,-2.85zM449.9,308.9l2.85,2.85l-2.85,2.85l-2.85,-2.85zM363.9,302.3l2.85,2.85l-2.85,2.85l-2.85,-2.85zM370.1,307.3l2.85,2.85l-2.85,2.85l-2.85,-2.85zM371.9,311.6l2.85,2.85l-2.85,2.85l-2.85,-2.85zM370.4,316.1l2.85,2.85l-2.85,2.85l-2.85,-2.85zM378.3,318.0l2.85,2.85l-2.85,2.85l-2.85,-2.85zM359.6,322.3l2.85,2.85l-2.85,2.85l-2.85,-2.85zM335.3,325.4l2.85,2.85l-2.85,2.85l-2.85,-2.85zM368.6,326.9l2.85,2.85l-2.85,2.85l-2.85,-2.85zM377.9,326.9l2.85,2.85l-2.85,2.85l-2.85,-2.85zM370.1,332.9l2.85,2.85l-2.85,2.85l-2.85,-2.85zM335.3,350.3l2.85,2.85l-2.85,2.85l-2.85,-2.85zM359.6,347.5l2.85,2.85l-2.85,2.85l-2.85,-2.85zM368.6,352.1l2.85,2.85l-2.85,2.85l-2.85,-2.85z" fill="#000"/><rect x="310.9" y="207.6" width="225.70" height="166.60" fill="none" stroke="#262626" stroke-width="1.3"/><text x="310.90" y="385.70" text-anchor="middle" class="tk">0.37</text><text x="367.32" y="385.70" text-anchor="middle" class="tk">0.42</text><text x="423.75" y="385.70" text-anchor="middle" class="tk">0.47</text><text x="480.18" y="385.70" text-anchor="middle" class="tk">0.52</text><text x="536.60" y="385.70" text-anchor="middle" class="tk">0.57</text><text x="307.30" y="377.60" text-anchor="end" class="tk">0.35</text><text x="307.30" y="335.95" text-anchor="end" class="tk">0.40</text><text x="307.30" y="294.30" text-anchor="end" class="tk">0.45</text><text x="307.30" y="252.65" text-anchor="end" class="tk">0.50</text><text x="307.30" y="211.00" text-anchor="end" class="tk">0.55</text><path d="M367.32,374.2v-3M423.75,374.2v-3M480.18,374.2v-3M310.9,332.55h3M310.9,290.90h3M310.9,249.25h3" stroke="#262626" stroke-width="1"/><text x="423.65" y="396.90" text-anchor="middle" class="ti">UAV raw reflectance</text><text transform="translate(285.30,290.90) rotate(-90)" x="0" y="0" text-anchor="middle" class="ti">UAV simulated reflectance</text><text x="320.1" y="222.0" class="eq">(d)</text><text x="320.1" y="234.1" class="eq">y = 3.058x² - 2.022x + 0.701</text><text x="320.1" y="246.0" class="eq">R² = 0.729</text></g>
</g>
<style>text{font-family:'Liberation Serif','Times New Roman',serif;font-weight:bold;fill:#000;font-kerning:none;stroke:#000;stroke-width:0.2px;} .tk{font-size:9.8px;} .ti{font-size:11.2px;} .eq{font-size:9.6px;}</style>
</svg></body></html>
